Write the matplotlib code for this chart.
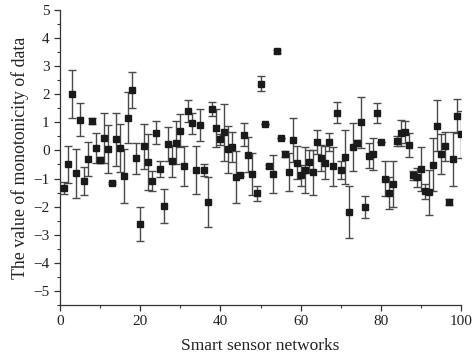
import matplotlib
matplotlib.use("Agg")
import matplotlib.pyplot as plt
from matplotlib.ticker import MultipleLocator

# values (network index 1..100)
networks = list(range(1, 101))
values = [
    -1.34, -0.49, 2.02, -0.81, 1.10, -1.10, -0.31, 1.04, 0.08, -0.33,
    0.44, 0.04, -1.16, 0.40, 0.08, -0.91, 1.17, 2.14, -0.28, -2.61,
    0.15, -0.42, -1.08, 0.63, -0.66, -1.97, 0.23, -0.37, 0.28, 0.70,
    -0.55, 1.41, 0.97, -0.70, 0.91, -0.70, -1.83, 1.47, 0.79, 0.40,
    0.64, 0.04, 0.11, -0.95, -0.87, 0.56, -0.15, -0.84, -1.53, 2.38,
    0.95, -0.57, -0.84, 3.53, 0.46, -0.12, -0.77, 0.38, -0.43, -0.89,
    -0.71, -0.40, -0.78, 0.30, -0.26, -0.43, 0.30, -0.57, 1.35, -0.69,
    -0.24, -2.18, 0.12, 0.26, 1.00, -2.02, -0.19, -0.12, 1.33, 0.30,
    -1.00, -1.52, -1.20, 0.34, 0.62, 0.65, 0.20, -0.89, -0.96, -0.66,
    -1.46, -1.49, -0.51, 0.88, -0.13, 0.14, -1.83, -0.30, 1.23, 0.57,
]
errors = [
    0.20, 0.66, 0.86, 0.87, 0.59, 0.50, 0.60, 0.10, 0.53, 0.10,
    0.90, 0.86, 0.05, 0.95, 0.85, 0.97, 0.90, 0.64, 0.55, 0.60,
    0.80, 1.00, 0.35, 0.40, 0.30, 0.60, 0.60, 0.57, 0.78, 0.58,
    0.72, 0.40, 0.38, 0.86, 0.57, 0.20, 0.88, 0.24, 0.67, 0.20,
    1.00, 0.84, 0.53, 0.93, 0.05, 0.40, 0.62, 0.76, 0.28, 0.28,
    0.00, 0.05, 0.66, 0.05, 0.00, 0.10, 0.68, 0.78, 0.59, 0.36,
    0.82, 0.40, 0.80, 0.43, 0.46, 0.60, 0.33, 0.70, 0.39, 0.33,
    0.95, 0.92, 0.86, 0.10, 0.90, 0.40, 0.45, 0.57, 0.35, 0.00,
    0.63, 0.58, 0.83, 0.18, 0.46, 0.40, 0.42, 0.17, 0.35, 0.77,
    0.28, 0.80, 0.95, 0.90, 0.71, 0.52, 0.10, 0.95, 0.60, 0.83,
]

plt.rcParams['font.family'] = ['Liberation Serif', 'DejaVu Serif']
plt.rcParams['axes.unicode_minus'] = True

fig = plt.figure(figsize=(4.74, 3.63), dpi=100)
ax = fig.add_axes([0.1266, 0.160, 0.846, 0.8125])

ax.errorbar(networks, values, yerr=errors, fmt='s', color='#1a1a1a',
            ecolor='#4a4a4a', elinewidth=1.0, capsize=3, capthick=1.0,
            markersize=4.5, zorder=3)

ax.set_xlim(0, 100)
ax.set_ylim(-5.5, 5)
ax.xaxis.set_major_locator(MultipleLocator(20))
ax.xaxis.set_minor_locator(MultipleLocator(10))
ax.yaxis.set_minor_locator(MultipleLocator(0.5))
ax.set_yticks(range(-5, 6))

for s in ['top', 'right']:
    ax.spines[s].set_visible(False)
for s in ['left', 'bottom']:
    ax.spines[s].set_color('#333333')
    ax.spines[s].set_linewidth(0.9)

ax.tick_params(which='major', direction='out', length=4, width=0.9,
               colors='#333333', labelsize=11, labelcolor='#222222')
ax.tick_params(which='minor', direction='out', length=2.5, width=0.8,
               colors='#333333')

ax.set_xlabel('Smart sensor networks', fontsize=12.5, color='#222222', labelpad=7)
ax.set_ylabel('The value of monotonicity of data', fontsize=12.8,
              color='#222222', labelpad=3)

fig.savefig('out.png', dpi=100)
